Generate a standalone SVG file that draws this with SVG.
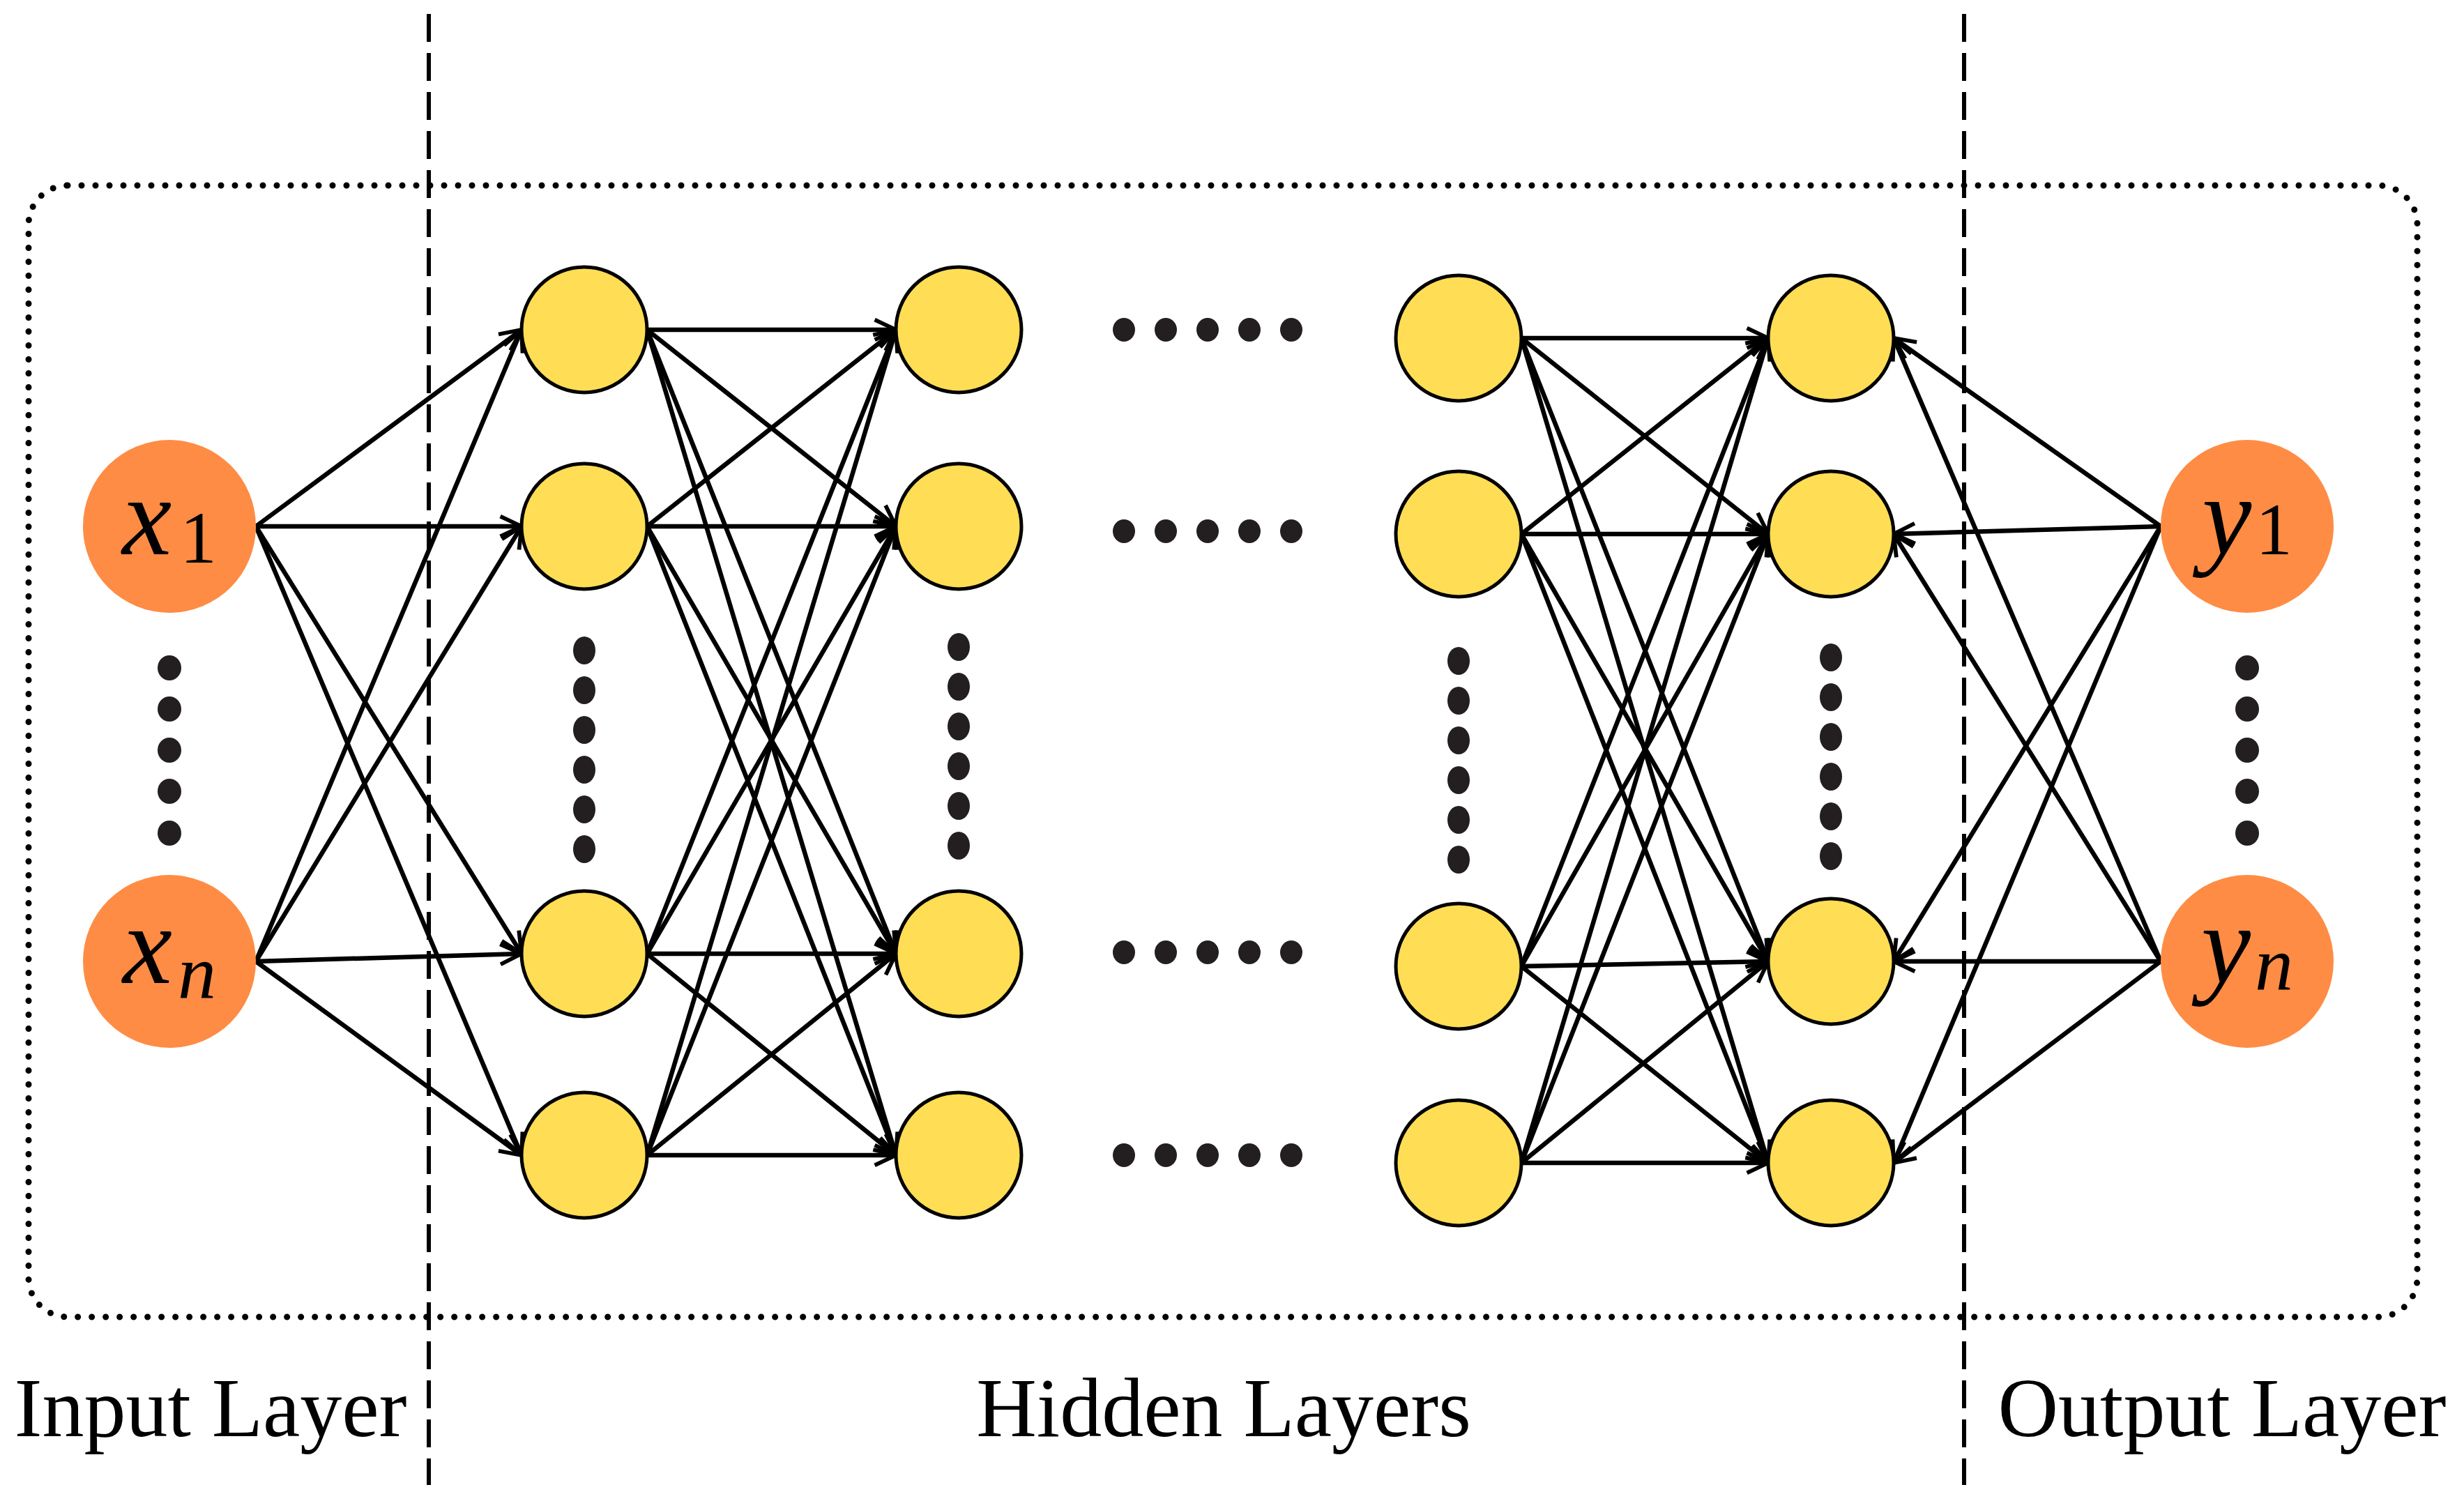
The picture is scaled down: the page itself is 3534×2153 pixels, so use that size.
<svg xmlns="http://www.w3.org/2000/svg" width="3534" height="2153" viewBox="0 0 3534 2153">
<style>
.in{fill:#FF8C45}
.h{fill:#FFDD55;stroke:#000;stroke-width:5}
.c line{stroke:#000;stroke-width:6.5}
.d{fill:#231F20}
.lab{font-family:"Liberation Serif",serif;font-size:120px;fill:#000}
.m{font-family:"Liberation Serif",serif;font-style:italic;font-size:160px;fill:#000}
.s{font-size:105px;font-style:normal}
.si{font-size:110px}
</style>
<defs>
<marker id="a" viewBox="0 0 10 10" refX="9.5" refY="5" markerWidth="32" markerHeight="32" orient="auto" markerUnits="userSpaceOnUse" overflow="visible">
<path d="M0,0.5 L9.5,5 L0,9.5" fill="none" stroke="#000" stroke-width="1.8"/>
</marker>
</defs>
<rect x="41" y="266" width="3426" height="1623" rx="56" fill="none" stroke="#000" stroke-width="9" stroke-dasharray="0 20" stroke-linecap="round"/>
<g id="sep" stroke="#000" stroke-width="6" stroke-dasharray="40 16">
<line x1="615" y1="20" x2="615" y2="2130"/>
<line x1="2817" y1="20" x2="2817" y2="2130"/>
</g>
<g class="c" id="connectors" marker-end="url(#a)">
<line x1="367" y1="755" x2="748" y2="473" marker-end="url(#a)"/><line x1="367" y1="755" x2="748" y2="755" marker-end="url(#a)"/><line x1="367" y1="755" x2="748" y2="1368" marker-end="url(#a)"/><line x1="367" y1="755" x2="748" y2="1657" marker-end="url(#a)"/>
<line x1="367" y1="1379" x2="748" y2="473" marker-end="url(#a)"/><line x1="367" y1="1379" x2="748" y2="755" marker-end="url(#a)"/><line x1="367" y1="1379" x2="748" y2="1368" marker-end="url(#a)"/><line x1="367" y1="1379" x2="748" y2="1657" marker-end="url(#a)"/>
<line x1="928" y1="473" x2="1285" y2="473" marker-end="url(#a)"/><line x1="928" y1="473" x2="1285" y2="755" marker-end="url(#a)"/><line x1="928" y1="473" x2="1285" y2="1368" marker-end="url(#a)"/><line x1="928" y1="473" x2="1285" y2="1657" marker-end="url(#a)"/>
<line x1="928" y1="755" x2="1285" y2="473" marker-end="url(#a)"/><line x1="928" y1="755" x2="1285" y2="755" marker-end="url(#a)"/><line x1="928" y1="755" x2="1285" y2="1368" marker-end="url(#a)"/><line x1="928" y1="755" x2="1285" y2="1657" marker-end="url(#a)"/>
<line x1="928" y1="1368" x2="1285" y2="473" marker-end="url(#a)"/><line x1="928" y1="1368" x2="1285" y2="755" marker-end="url(#a)"/><line x1="928" y1="1368" x2="1285" y2="1368" marker-end="url(#a)"/><line x1="928" y1="1368" x2="1285" y2="1657" marker-end="url(#a)"/>
<line x1="928" y1="1657" x2="1285" y2="473" marker-end="url(#a)"/><line x1="928" y1="1657" x2="1285" y2="755" marker-end="url(#a)"/><line x1="928" y1="1657" x2="1285" y2="1368" marker-end="url(#a)"/><line x1="928" y1="1657" x2="1285" y2="1657" marker-end="url(#a)"/>
<line x1="2182" y1="485" x2="2536" y2="485" marker-end="url(#a)"/><line x1="2182" y1="485" x2="2536" y2="766" marker-end="url(#a)"/><line x1="2182" y1="485" x2="2536" y2="1379" marker-end="url(#a)"/><line x1="2182" y1="485" x2="2536" y2="1668" marker-end="url(#a)"/>
<line x1="2182" y1="766" x2="2536" y2="485" marker-end="url(#a)"/><line x1="2182" y1="766" x2="2536" y2="766" marker-end="url(#a)"/><line x1="2182" y1="766" x2="2536" y2="1379" marker-end="url(#a)"/><line x1="2182" y1="766" x2="2536" y2="1668" marker-end="url(#a)"/>
<line x1="2182" y1="1386" x2="2536" y2="485" marker-end="url(#a)"/><line x1="2182" y1="1386" x2="2536" y2="766" marker-end="url(#a)"/><line x1="2182" y1="1386" x2="2536" y2="1379" marker-end="url(#a)"/><line x1="2182" y1="1386" x2="2536" y2="1668" marker-end="url(#a)"/>
<line x1="2182" y1="1668" x2="2536" y2="485" marker-end="url(#a)"/><line x1="2182" y1="1668" x2="2536" y2="766" marker-end="url(#a)"/><line x1="2182" y1="1668" x2="2536" y2="1379" marker-end="url(#a)"/><line x1="2182" y1="1668" x2="2536" y2="1668" marker-end="url(#a)"/>
<line x1="3099" y1="755" x2="2716" y2="485" marker-end="url(#a)"/><line x1="3099" y1="755" x2="2716" y2="766" marker-end="url(#a)"/><line x1="3099" y1="755" x2="2716" y2="1379" marker-end="url(#a)"/><line x1="3099" y1="755" x2="2716" y2="1668" marker-end="url(#a)"/>
<line x1="3099" y1="1379" x2="2716" y2="485" marker-end="url(#a)"/><line x1="3099" y1="1379" x2="2716" y2="766" marker-end="url(#a)"/><line x1="3099" y1="1379" x2="2716" y2="1379" marker-end="url(#a)"/><line x1="3099" y1="1379" x2="2716" y2="1668" marker-end="url(#a)"/>
</g>
<g id="x1"><circle class="in" cx="243" cy="755" r="124"/><text class="m" x="243" y="795" text-anchor="middle">x<tspan class="s" dx="12" dy="12">1</tspan></text></g>
<g id="xn"><circle class="in" cx="243" cy="1379" r="124"/><text class="m" x="243" y="1410" text-anchor="middle">x<tspan class="si" dx="8" dy="22">n</tspan></text></g>
<g id="y1"><circle class="in" cx="3223" cy="755" r="124"/><text class="m" x="3223" y="795" text-anchor="middle">y<tspan class="s" dx="6" dy="0">1</tspan></text></g>
<g id="yn"><circle class="in" cx="3223" cy="1379" r="124"/><text class="m" x="3223" y="1410" text-anchor="middle">y<tspan class="si" dx="6" dy="10">n</tspan></text></g>
<g id="h1"><circle class="h" cx="838" cy="473" r="90"/><circle class="h" cx="838" cy="755" r="90"/><circle class="h" cx="838" cy="1368" r="90"/><circle class="h" cx="838" cy="1657" r="90"/></g>
<g id="h2"><circle class="h" cx="1375" cy="473" r="90"/><circle class="h" cx="1375" cy="755" r="90"/><circle class="h" cx="1375" cy="1368" r="90"/><circle class="h" cx="1375" cy="1657" r="90"/></g>
<g id="h3"><circle class="h" cx="2092" cy="485" r="90"/><circle class="h" cx="2092" cy="766" r="90"/><circle class="h" cx="2092" cy="1386" r="90"/><circle class="h" cx="2092" cy="1668" r="90"/></g>
<g id="h4"><circle class="h" cx="2626" cy="485" r="90"/><circle class="h" cx="2626" cy="766" r="90"/><circle class="h" cx="2626" cy="1379" r="90"/><circle class="h" cx="2626" cy="1668" r="90"/></g>
<g id="dots" class="d">
<ellipse cx="243" cy="958" rx="17" ry="18"/><ellipse cx="243" cy="1017" rx="17" ry="18"/><ellipse cx="243" cy="1076" rx="17" ry="18"/><ellipse cx="243" cy="1135" rx="17" ry="18"/><ellipse cx="243" cy="1195" rx="17" ry="18"/>
<ellipse cx="3223" cy="958" rx="17" ry="18"/><ellipse cx="3223" cy="1017" rx="17" ry="18"/><ellipse cx="3223" cy="1076" rx="17" ry="18"/><ellipse cx="3223" cy="1135" rx="17" ry="18"/><ellipse cx="3223" cy="1195" rx="17" ry="18"/>
<ellipse cx="838" cy="933" rx="16" ry="20"/><ellipse cx="838" cy="990" rx="16" ry="20"/><ellipse cx="838" cy="1047" rx="16" ry="20"/><ellipse cx="838" cy="1104" rx="16" ry="20"/><ellipse cx="838" cy="1161" rx="16" ry="20"/><ellipse cx="838" cy="1218" rx="16" ry="20"/>
<ellipse cx="1375" cy="928" rx="16" ry="20"/><ellipse cx="1375" cy="985" rx="16" ry="20"/><ellipse cx="1375" cy="1042" rx="16" ry="20"/><ellipse cx="1375" cy="1099" rx="16" ry="20"/><ellipse cx="1375" cy="1156" rx="16" ry="20"/><ellipse cx="1375" cy="1213" rx="16" ry="20"/>
<ellipse cx="2092" cy="948" rx="16" ry="20"/><ellipse cx="2092" cy="1005" rx="16" ry="20"/><ellipse cx="2092" cy="1062" rx="16" ry="20"/><ellipse cx="2092" cy="1119" rx="16" ry="20"/><ellipse cx="2092" cy="1176" rx="16" ry="20"/><ellipse cx="2092" cy="1233" rx="16" ry="20"/>
<ellipse cx="2626" cy="943" rx="16" ry="20"/><ellipse cx="2626" cy="1000" rx="16" ry="20"/><ellipse cx="2626" cy="1057" rx="16" ry="20"/><ellipse cx="2626" cy="1114" rx="16" ry="20"/><ellipse cx="2626" cy="1171" rx="16" ry="20"/><ellipse cx="2626" cy="1228" rx="16" ry="20"/>
<ellipse cx="1612" cy="473" rx="16" ry="17"/><ellipse cx="1672" cy="473" rx="16" ry="17"/><ellipse cx="1732" cy="473" rx="16" ry="17"/><ellipse cx="1792" cy="473" rx="16" ry="17"/><ellipse cx="1852" cy="473" rx="16" ry="17"/>
<ellipse cx="1612" cy="762" rx="16" ry="17"/><ellipse cx="1672" cy="762" rx="16" ry="17"/><ellipse cx="1732" cy="762" rx="16" ry="17"/><ellipse cx="1792" cy="762" rx="16" ry="17"/><ellipse cx="1852" cy="762" rx="16" ry="17"/>
<ellipse cx="1612" cy="1366" rx="16" ry="17"/><ellipse cx="1672" cy="1366" rx="16" ry="17"/><ellipse cx="1732" cy="1366" rx="16" ry="17"/><ellipse cx="1792" cy="1366" rx="16" ry="17"/><ellipse cx="1852" cy="1366" rx="16" ry="17"/>
<ellipse cx="1612" cy="1657" rx="16" ry="17"/><ellipse cx="1672" cy="1657" rx="16" ry="17"/><ellipse cx="1732" cy="1657" rx="16" ry="17"/><ellipse cx="1792" cy="1657" rx="16" ry="17"/><ellipse cx="1852" cy="1657" rx="16" ry="17"/>
</g>
<g id="labels">
<text class="lab" x="302" y="2060" text-anchor="middle">Input Layer</text>
<text class="lab" x="1755" y="2060" text-anchor="middle">Hidden Layers</text>
<text class="lab" x="3187" y="2060" text-anchor="middle">Output Layer</text>
</g>
</svg>
